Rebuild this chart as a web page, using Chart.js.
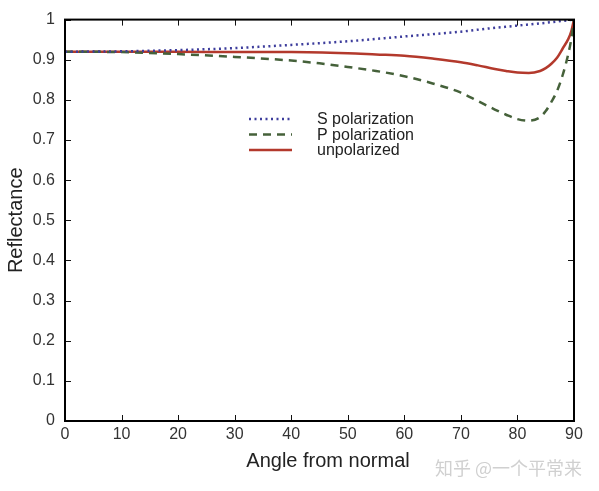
<!DOCTYPE html>
<html lang="en">
  <head>
    <meta charset="UTF-8" />
    <title>Reflectance</title>
    <script src="https://cdn.jsdelivr.net/npm/chart.js@4.4.0/dist/chart.umd.min.js"></script>
    <style>
      body { margin: 0; background: #fff; }
    </style>
  </head>
  <body>
    <div style="width: 599px; height: 491px; position: relative">
      <canvas id="myChart"></canvas>
    </div>
    <script>
      // values
      const sAngles = [0, 10, 20, 30, 40, 50, 60, 70, 75, 80, 85, 90];
      const sValues = [0.92, 0.921, 0.924, 0.929, 0.937, 0.946, 0.958, 0.97, 0.978, 0.985, 0.992, 1.0];

      const pAngles = [0, 10, 20, 30, 40, 45, 50, 55, 60, 65, 70, 73, 76, 78, 80, 82, 84, 85, 86, 87, 88, 89, 89.5, 90];
      const pValues = [0.92, 0.919, 0.914, 0.907, 0.898, 0.891, 0.882, 0.872, 0.859, 0.841, 0.818, 0.797, 0.776, 0.763, 0.752, 0.748, 0.757, 0.772, 0.795, 0.822, 0.862, 0.915, 0.95, 1.0];

      const uAngles = [0, 10, 20, 30, 40, 50, 55, 60, 65, 70, 73, 76, 78, 80, 82, 84, 85, 86, 87, 88, 89, 89.5, 90];
      const uValues = [0.92, 0.92, 0.92, 0.919, 0.919, 0.916, 0.913, 0.91, 0.903, 0.894, 0.886, 0.877, 0.872, 0.868, 0.867, 0.872, 0.879, 0.89, 0.905, 0.928, 0.952, 0.97, 1.0];

      const xTicks = [0, 10, 20, 30, 40, 50, 60, 70, 80, 90];
      const yTicks = [0, 0.1, 0.2, 0.3, 0.4, 0.5, 0.6, 0.7, 0.8, 0.9, 1];

      const FONT = "'Liberation Sans', Arial, sans-serif";

      function f_points(xs, ys) {
        return xs.map(function (x, i) {
          return { x: x, y: ys[i] };
        });
      }

      // 네모 테두리 + 안쪽 눈금 + 범례 + 워터마크
      const framePlugin = {
        id: "frame",
        afterDraw: function (chart) {
          const c = chart.ctx;
          const a = chart.chartArea;
          const xs = chart.scales.x;
          const ys = chart.scales.y;
          c.save();
          c.strokeStyle = "#111";
          c.lineWidth = 1;
          xTicks.forEach(function (v) {
            const px = Math.round(xs.getPixelForValue(v)) + 0.5;
            c.beginPath();
            c.moveTo(px, a.bottom);
            c.lineTo(px, a.bottom - 6);
            c.moveTo(px, a.top);
            c.lineTo(px, a.top + 6);
            c.stroke();
          });
          yTicks.forEach(function (v) {
            const py = Math.round(ys.getPixelForValue(v)) + 0.5;
            c.beginPath();
            c.moveTo(a.left, py);
            c.lineTo(a.left + 6, py);
            c.moveTo(a.right, py);
            c.lineTo(a.right - 6, py);
            c.stroke();
          });
          c.lineWidth = 2;
          c.strokeStyle = "#000";
          c.strokeRect(a.left, a.top, a.right - a.left, a.bottom - a.top);

          // legend inside plot
          c.font = "16px " + FONT;
          c.textBaseline = "middle";
          chart.data.datasets.forEach(function (ds, i) {
            const ly = 119 + i * 15.5;
            c.beginPath();
            c.strokeStyle = ds.borderColor;
            c.lineWidth = ds.borderWidth;
            c.setLineDash(ds.borderDash || []);
            c.moveTo(249, ly);
            c.lineTo(292, ly);
            c.stroke();
            c.setLineDash([]);
            c.fillStyle = "#222";
            c.fillText(ds.label, 317, ly + 1);
          });

          // x축 제목은 원본처럼 살짝 오른쪽에
          c.font = "20px " + FONT;
          c.fillStyle = "#222";
          c.textAlign = "center";
          c.fillText("Angle from normal", 328, 461);

          c.font = "18px 'Noto Sans CJK SC', sans-serif";
          c.fillStyle = "#d0d0d0";
          c.textAlign = "right";
          c.fillText("知乎 @一个平常来", 582, 468);
          c.restore();
        },
      };

      const ctx = document.getElementById("myChart").getContext("2d");
      const myChart = new Chart(ctx, {
        type: "line",
        data: {
          datasets: [
            {
              label: "S polarization",
              data: f_points(sAngles, sValues),
              borderColor: "#3d3d9c",
              borderWidth: 2.5,
              borderDash: [2, 3.5],
            },
            {
              label: "P polarization",
              data: f_points(pAngles, pValues),
              borderColor: "#45613a",
              borderWidth: 2.5,
              borderDash: [8, 6],
            },
            {
              label: "unpolarized",
              data: f_points(uAngles, uValues),
              borderColor: "#b3392c",
              borderWidth: 2.5,
            },
          ],
        },
        options: {
          responsive: true,
          maintainAspectRatio: false,
          animation: false,
          layout: { padding: { top: 19, right: 25, left: 0, bottom: 0 } },
          elements: {
            point: { radius: 0 },
            line: { cubicInterpolationMode: "monotone" },
          },
          plugins: {
            legend: { display: false },
            tooltip: { enabled: false },
          },
          scales: {
            x: {
              type: "linear",
              min: 0,
              max: 90,
              afterFit: function (s) {
                s.height = 70;
              },
              afterBuildTicks: function (s) {
                s.ticks = xTicks.map(function (v) {
                  return { value: v };
                });
              },
              grid: { display: false, drawTicks: false },
              border: { display: false },
              ticks: {
                padding: 4,
                color: "#333",
                font: { size: 16, family: FONT },
              },
              title: { display: false },
            },
            y: {
              min: 0,
              max: 1,
              afterFit: function (s) {
                s.width = 65;
              },
              afterBuildTicks: function (s) {
                s.ticks = yTicks.map(function (v) {
                  return { value: v };
                });
              },
              grid: { display: false, drawTicks: false },
              border: { display: false },
              ticks: {
                padding: 10,
                color: "#333",
                font: { size: 16, family: FONT },
                callback: function (v) {
                  return Math.round(v * 10) / 10;
                },
              },
              title: {
                display: true,
                text: "Reflectance",
                color: "#222",
                padding: { top: 4, bottom: 0 },
                font: { size: 20, family: FONT },
              },
            },
          },
        },
        plugins: [framePlugin],
      });
    </script>
  </body>
</html>
